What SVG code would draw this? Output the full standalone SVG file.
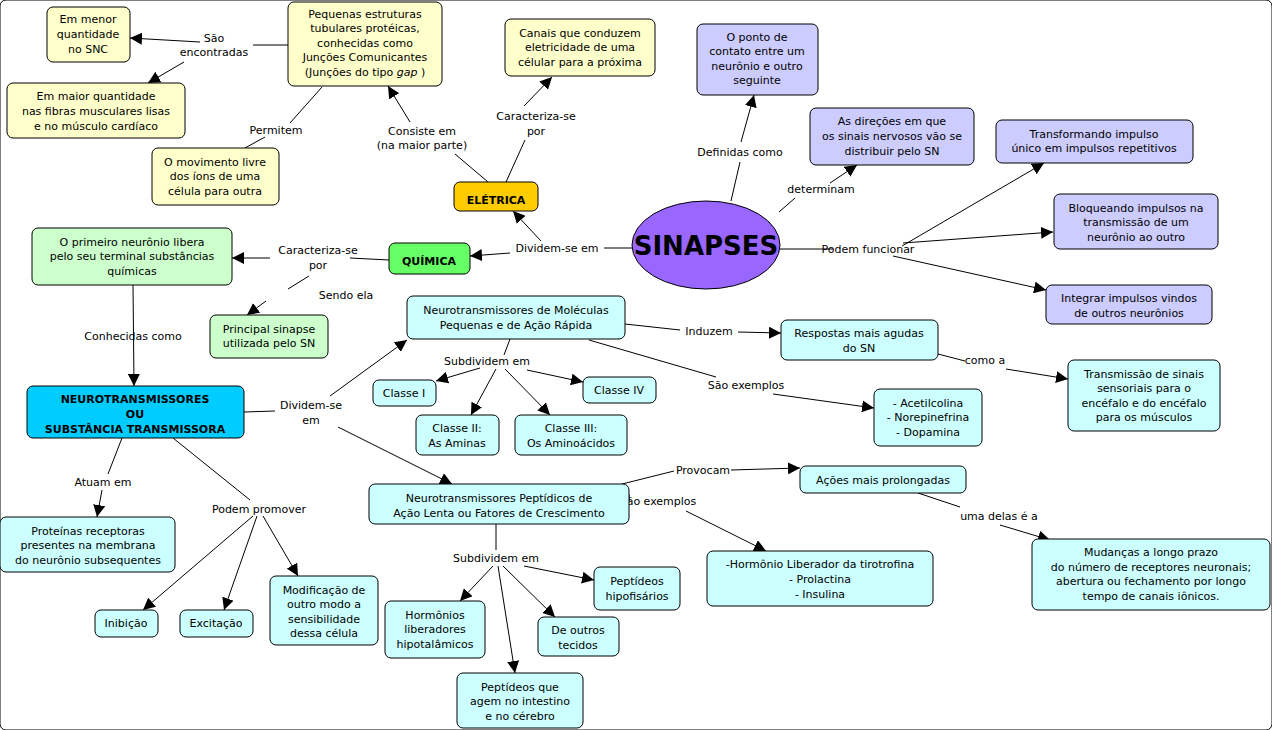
<svg xmlns="http://www.w3.org/2000/svg" width="1272" height="730" viewBox="0 0 1272 730">
<defs>
<marker id="a" markerUnits="userSpaceOnUse" markerWidth="12" markerHeight="12" viewBox="0 0 12 12" refX="12" refY="6" orient="auto"><path d="M0,0 L12,6 L0,12 z" fill="#000"/></marker>
</defs>
<style>
text{font-family:"DejaVu Sans",Verdana,sans-serif;font-size:11px;fill:#000;text-anchor:middle}
.b{font-weight:bold}
rect{stroke:#000;stroke-width:1;rx:6;ry:6}
.y{fill:#ffffcc}.p{fill:#ccccff}.g{fill:#ccffcc}.c{fill:#ccffff}
#conn line{stroke:#000;stroke-width:1}
.ar{marker-end:url(#a)}
</style>
<rect width="1272" height="730" fill="#fff" stroke="none" rx="0"/>
<g id="conn">
<line x1="288" y1="45" x2="253" y2="45"/><line class="ar" x1="200" y1="42" x2="130" y2="38"/><line class="ar" x1="184" y1="62" x2="148" y2="83"/>
<line x1="322" y1="87" x2="290" y2="123"/><line x1="265" y1="137" x2="245" y2="148"/>
<line x1="488" y1="182" x2="455" y2="154"/><line class="ar" x1="410" y1="122" x2="388" y2="86"/>
<line x1="506" y1="182" x2="525" y2="140"/><line class="ar" x1="524" y1="106" x2="552" y2="77"/>
<line x1="632" y1="248" x2="604" y2="248"/><line class="ar" x1="541" y1="241" x2="513" y2="211"/><line class="ar" x1="510" y1="253" x2="470" y2="256"/>
<line x1="389" y1="260" x2="350" y2="258"/><line class="ar" x1="270" y1="258" x2="232" y2="258"/>
<line x1="309" y1="276" x2="288" y2="289"/><line class="ar" x1="266" y1="301" x2="247" y2="315"/>
<line class="ar" x1="133" y1="285" x2="134" y2="386"/>
<line x1="244" y1="412" x2="275" y2="411"/><line class="ar" x1="330" y1="396" x2="407" y2="340"/><line class="ar" x1="338" y1="427" x2="452" y2="484"/>
<line x1="122" y1="438" x2="108" y2="474"/><line class="ar" x1="102" y1="490" x2="97" y2="517"/>
<line x1="173" y1="438" x2="250" y2="500"/><line class="ar" x1="253" y1="516" x2="143" y2="610"/><line class="ar" x1="257" y1="516" x2="224" y2="610"/><line class="ar" x1="263" y1="516" x2="298" y2="576"/>
<line x1="510" y1="339" x2="504" y2="355"/><line class="ar" x1="480" y1="368" x2="436" y2="381"/><line class="ar" x1="496" y1="369" x2="471" y2="415"/><line class="ar" x1="505" y1="369" x2="550" y2="415"/><line class="ar" x1="527" y1="370" x2="583" y2="382"/>
<line x1="625" y1="324" x2="680" y2="330"/><line class="ar" x1="738" y1="332" x2="781" y2="333"/>
<line x1="589" y1="340" x2="716" y2="377"/><line class="ar" x1="773" y1="394" x2="874" y2="408"/>
<line x1="938" y1="354" x2="965" y2="361"/><line class="ar" x1="1006" y1="369" x2="1068" y2="379"/>
<line x1="496" y1="524" x2="496" y2="550"/><line class="ar" x1="493" y1="566" x2="460" y2="601"/><line class="ar" x1="498" y1="566" x2="515" y2="673"/><line class="ar" x1="503" y1="566" x2="555" y2="617"/><line class="ar" x1="524" y1="566" x2="594" y2="580"/>
<line x1="622" y1="484" x2="674" y2="471"/><line class="ar" x1="731" y1="470" x2="800" y2="468"/>
<line x1="629" y1="494" x2="629" y2="502"/><line class="ar" x1="686" y1="511" x2="766" y2="551"/>
<line x1="918" y1="493" x2="960" y2="507"/><line class="ar" x1="1000" y1="525" x2="1050" y2="540"/>
<line x1="731" y1="201" x2="740" y2="162"/><line class="ar" x1="741" y1="142" x2="754" y2="95"/>
<line x1="779" y1="212" x2="795" y2="198"/><line class="ar" x1="830" y1="183" x2="857" y2="165"/>
<line x1="780" y1="249" x2="833" y2="249"/><line class="ar" x1="902" y1="246" x2="1044" y2="163"/><line class="ar" x1="903" y1="243" x2="1053" y2="232"/><line class="ar" x1="893" y1="256" x2="1046" y2="290"/>
</g>
<g id="labels">
<text x="214" y="42">São</text><text x="214" y="56">encontradas</text>
<text x="276" y="134">Permitem</text>
<text x="422" y="135">Consiste em</text><text x="422" y="149">(na maior parte)</text>
<text x="536" y="120">Caracteriza-se</text><text x="536" y="135">por</text>
<text x="557" y="252">Dividem-se em</text>
<text x="318" y="254">Caracteriza-se</text><text x="318" y="269">por</text>
<text x="346" y="299">Sendo ela</text>
<text x="133" y="340">Conhecidas como</text>
<text x="311" y="409">Dividem-se</text><text x="311" y="424">em</text>
<text x="103" y="486">Atuam em</text>
<text x="259" y="513">Podem promover</text>
<text x="487" y="365">Subdividem em</text>
<text x="709" y="335">Induzem</text>
<text x="746" y="389">São exemplos</text>
<text x="985" y="364">como a</text>
<text x="496" y="562">Subdividem em</text>
<text x="703" y="474">Provocam</text>
<text x="658" y="505">São exemplos</text>
<text x="999" y="520">uma delas é a</text>
<text x="740" y="156">Definidas como</text>
<text x="821" y="193">determinam</text>
<text x="868" y="253">Podem funcionar</text>
</g>
<g id="n1"><rect class="y" x="47" y="7" width="83" height="55"/><text x="88" y="23">Em menor</text><text x="88" y="38">quantidade</text><text x="88" y="53">no SNC</text></g>
<g id="n2"><rect class="y" x="7" y="83" width="178" height="55"/><text x="96" y="100">Em maior quantidade</text><text x="96" y="115">nas fibras musculares lisas</text><text x="96" y="130">e no músculo cardíaco</text></g>
<g id="n3"><rect class="y" x="288" y="2" width="154" height="84"/><text x="365" y="18">Pequenas estruturas</text><text x="365" y="32">tubulares protéicas,</text><text x="365" y="47">conhecidas como</text><text x="365" y="61">Junções Comunicantes</text><text x="365" y="76">(Junções do tipo <tspan font-style="italic">gap</tspan> )</text></g>
<g id="n4"><rect class="y" x="505" y="19" width="150" height="57"/><text x="580" y="37">Canais que conduzem</text><text x="580" y="51">eletricidade de uma</text><text x="580" y="66">célular para a próxima</text></g>
<g id="n5"><rect class="y" x="152" y="148" width="127" height="57"/><text x="215" y="166">O movimento livre</text><text x="215" y="180">dos íons de uma</text><text x="215" y="195">célula para outra</text></g>
<g id="n6"><rect x="454" y="182" width="84" height="29" fill="#ffcc00"/><text class="b" x="496" y="204">ELÉTRICA</text></g>
<g id="n7"><rect x="389" y="243" width="81" height="31" fill="#66ff66"/><text class="b" x="429" y="265">QUÍMICA</text></g>
<g id="n8"><rect class="g" x="32" y="228" width="200" height="57"/><text x="132" y="246">O primeiro neurônio libera</text><text x="132" y="260">pelo seu terminal substâncias</text><text x="132" y="275">químicas</text></g>
<g id="n9"><rect class="g" x="210" y="315" width="118" height="43"/><text x="269" y="333">Principal sinapse</text><text x="269" y="347">utilizada pelo SN</text></g>
<g id="n10"><rect x="27" y="386" width="217" height="52" fill="#00ccff"/><text class="b" x="135" y="403">NEUROTRANSMISSORES</text><text class="b" x="135" y="418">OU</text><text class="b" x="135" y="433">SUBSTÂNCIA TRANSMISSORA</text></g>
<g id="n11"><ellipse cx="706" cy="245" rx="74" ry="44" fill="#9966ff" stroke="#000"/><text class="b" x="706" y="255" style="font-size:26px">SINAPSES</text></g>
<g id="n12"><rect class="p" x="697" y="24" width="121" height="71"/><text x="757" y="41">O ponto de</text><text x="757" y="55">contato entre um</text><text x="757" y="70">neurônio e outro</text><text x="757" y="84">seguinte</text></g>
<g id="n13"><rect class="p" x="810" y="108" width="164" height="57"/><text x="892" y="125">As direções em que</text><text x="892" y="140">os sinais nervosos vão se</text><text x="892" y="155">distribuir pelo SN</text></g>
<g id="n14"><rect class="p" x="996" y="120" width="197" height="43"/><text x="1094" y="138">Transformando impulso</text><text x="1094" y="152">único em impulsos repetitivos</text></g>
<g id="n15"><rect class="p" x="1054" y="194" width="164" height="55"/><text x="1136" y="212">Bloqueando impulsos na</text><text x="1136" y="226">transmissão de um</text><text x="1136" y="241">neurônio ao outro</text></g>
<g id="n16"><rect class="p" x="1046" y="285" width="166" height="39"/><text x="1129" y="302">Integrar impulsos vindos</text><text x="1129" y="317">de outros neurônios</text></g>
<g id="n17"><rect class="c" x="407" y="296" width="218" height="43"/><text x="516" y="314">Neurotransmissores de Moléculas</text><text x="516" y="329">Pequenas e de Ação Rápida</text></g>
<g id="n18"><rect class="c" x="373" y="380" width="63" height="26"/><text x="404" y="397">Classe I</text></g>
<g id="n19"><rect class="c" x="583" y="377" width="73" height="26"/><text x="619" y="394">Classe IV</text></g>
<g id="n20"><rect class="c" x="416" y="415" width="83" height="40"/><text x="457" y="432">Classe II:</text><text x="457" y="447">As Aminas</text></g>
<g id="n21"><rect class="c" x="515" y="415" width="112" height="40"/><text x="571" y="432">Classe III:</text><text x="571" y="447">Os Aminoácidos</text></g>
<g id="n22"><rect class="c" x="781" y="320" width="157" height="40"/><text x="859" y="337">Respostas mais agudas</text><text x="859" y="352">do SN</text></g>
<g id="n23"><rect class="c" x="874" y="389" width="108" height="57"/><text x="928" y="407">- Acetilcolina</text><text x="928" y="421">- Norepinefrina</text><text x="928" y="436">- Dopamina</text></g>
<g id="n24"><rect class="c" x="1068" y="360" width="152" height="71"/><text x="1144" y="378">Transmissão de sinais</text><text x="1144" y="392">sensoriais para o</text><text x="1144" y="407">encéfalo e do encéfalo</text><text x="1144" y="421">para os músculos</text></g>
<g id="n25"><rect class="c" x="369" y="484" width="260" height="40"/><text x="499" y="502">Neurotransmissores Peptídicos de</text><text x="499" y="517">Ação Lenta ou Fatores de Crescimento</text></g>
<g id="n26"><rect class="c" x="800" y="466" width="166" height="27"/><text x="883" y="484">Ações mais prolongadas</text></g>
<g id="n27"><rect class="c" x="707" y="551" width="226" height="55"/><text x="820" y="568">-Hormônio Liberador da tirotrofina</text><text x="820" y="583">- Prolactina</text><text x="820" y="598">- Insulina</text></g>
<g id="n28"><rect class="c" x="1032" y="539" width="238" height="71"/><text x="1151" y="556">Mudanças a longo prazo</text><text x="1151" y="571">do número de receptores neuronais;</text><text x="1151" y="585">abertura ou fechamento por longo</text><text x="1151" y="600">tempo de canais iônicos.</text></g>
<g id="n29"><rect class="c" x="0" y="517" width="175" height="55"/><text x="88" y="535">Proteínas receptoras</text><text x="88" y="549">presentes na membrana</text><text x="88" y="564">do neurônio subsequentes</text></g>
<g id="n30"><rect class="c" x="95" y="610" width="63" height="27"/><text x="126" y="627">Inibição</text></g>
<g id="n31"><rect class="c" x="180" y="610" width="73" height="27"/><text x="216" y="627">Excitação</text></g>
<g id="n32"><rect class="c" x="270" y="576" width="108" height="69"/><text x="324" y="594">Modificação de</text><text x="324" y="608">outro modo a</text><text x="324" y="623">sensibilidade</text><text x="324" y="637">dessa célula</text></g>
<g id="n33"><rect class="c" x="385" y="601" width="100" height="57"/><text x="435" y="619">Hormônios</text><text x="435" y="633">liberadores</text><text x="435" y="648">hipotalâmicos</text></g>
<g id="n34"><rect class="c" x="594" y="567" width="86" height="43"/><text x="637" y="585">Peptídeos</text><text x="637" y="600">hipofisários</text></g>
<g id="n35"><rect class="c" x="538" y="617" width="81" height="39"/><text x="578" y="634">De outros</text><text x="578" y="649">tecidos</text></g>
<g id="n36"><rect class="c" x="457" y="673" width="126" height="55"/><text x="520" y="691">Peptídeos que</text><text x="520" y="705">agem no intestino</text><text x="520" y="720">e no cérebro</text></g>
</svg>
